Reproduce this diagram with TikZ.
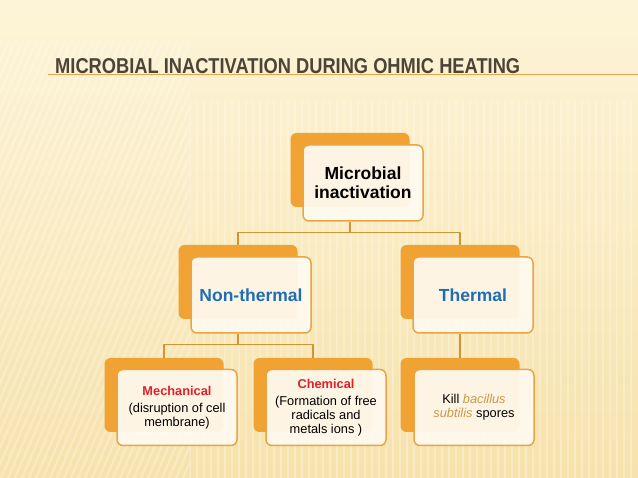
\documentclass[tikz,border=0pt]{standalone}
\usepackage{fontspec}
\usetikzlibrary{calc}
\setmainfont{Liberation Sans}
\newfontfamily\titlefont[FakeStretch=0.85]{Liberation Sans}
\definecolor{bgtop}{HTML}{FDF4D8}
\definecolor{bgbot}{HTML}{F6E2AC}
\definecolor{boxorange}{HTML}{F0A232}
\definecolor{boxline}{HTML}{EAA443}
\definecolor{boxcream}{HTML}{FFFAF0}
\definecolor{linkorange}{HTML}{D39533}
\definecolor{titlegray}{HTML}{4B4537}
\definecolor{lvlblue}{HTML}{1F6DB4}
\definecolor{lvlred}{HTML}{E0212B}
\definecolor{tan}{HTML}{C99A45}
\tikzset{
  back/.style={fill=boxorange, rounded corners=6pt, minimum width=119pt, minimum height=74pt, inner sep=0pt},
  front/.style={draw=boxline, line width=1.5pt, fill=boxcream, fill opacity=0.94, text opacity=1, rounded corners=6pt, minimum width=120pt, minimum height=76pt, inner sep=2pt, align=center},
  link/.style={draw=linkorange, line width=1.3pt},
  stripe/.style={white, opacity=0.25, line width=2.2pt},
  big/.style={font=\bfseries\fontsize{17.5}{19}\selectfont},
  small/.style={font=\fontsize{12.8}{13.8}\selectfont}
}
\begin{document}
\begin{tikzpicture}[x=1pt, y=-1pt, line join=round]
\useasboundingbox (0,0) rectangle (638,478);
\shade[top color=bgtop, bottom color=bgbot] (0,0) rectangle (638,478);
% stripes: slanted on the left, upright elsewhere
\begin{scope}
  \clip (0,40) rectangle (190,478);
  \foreach \x in {-300,-293,...,190} \draw[stripe] (\x,478) -- ++(190,-438);
\end{scope}
\begin{scope}
  \clip (190,100) rectangle (638,478);
  \foreach \x in {190,197,...,637} \draw[stripe] (\x,100) -- (\x,478);
\end{scope}
% title
\draw[boxline, line width=1pt] (48,74.5) -- (638,74.5);
\node[anchor=base west, inner sep=0pt, text=titlegray, font=\titlefont\bfseries\fontsize{21.5}{21.5}\selectfont] (title) at (55,74) {MICROBIAL INACTIVATION DURING OHMIC HEATING};
% boxes
\foreach \n/\x/\y in {mi/350/170,nt/238/282,th/460/282,me/164/395,ch/313/395,kb/460/395}
  \node[back] (\n-b) at (\x,\y) {};
\node[front, big] (mi) at ($(mi-b)+(13,13)$) {Microbial\\inactivation};
\node[front, big, text=lvlblue] (nt) at ($(nt-b)+(13,13)$) {Non-thermal};
\node[front, big, text=lvlblue] (th) at ($(th-b)+(13,13)$) {Thermal};
\node[front, small] (me) at ($(me-b)+(13,12.5)$) {\textcolor{lvlred}{\bfseries Mechanical}\\[3pt](disruption of cell\\membrane)};
\node[front, small] (ch) at ($(ch-b)+(13,12.5)$) {\textcolor{lvlred}{\bfseries Chemical}\\[3pt](Formation of free\\radicals and\\metals ions )};
\node[front, small] (kb) at ($(kb-b)+(14,12.5)$) {Kill \textcolor{tan}{\itshape bacillus}\\\textcolor{tan}{\itshape subtilis} spores};
% connectors
\draw[link] (mi-b.center |- mi.south) -- ++(0,11) coordinate (j1) -| (nt-b.north);
\draw[link] (j1) -| (th-b.north);
\draw[link] (nt-b.center |- nt.south) -- ++(0,11) coordinate (j2) -| (me-b.north);
\draw[link] (j2) -| (ch-b.north);
\draw[link] (th-b.center |- th.south) -- (kb-b.north);
\end{tikzpicture}
\end{document}
